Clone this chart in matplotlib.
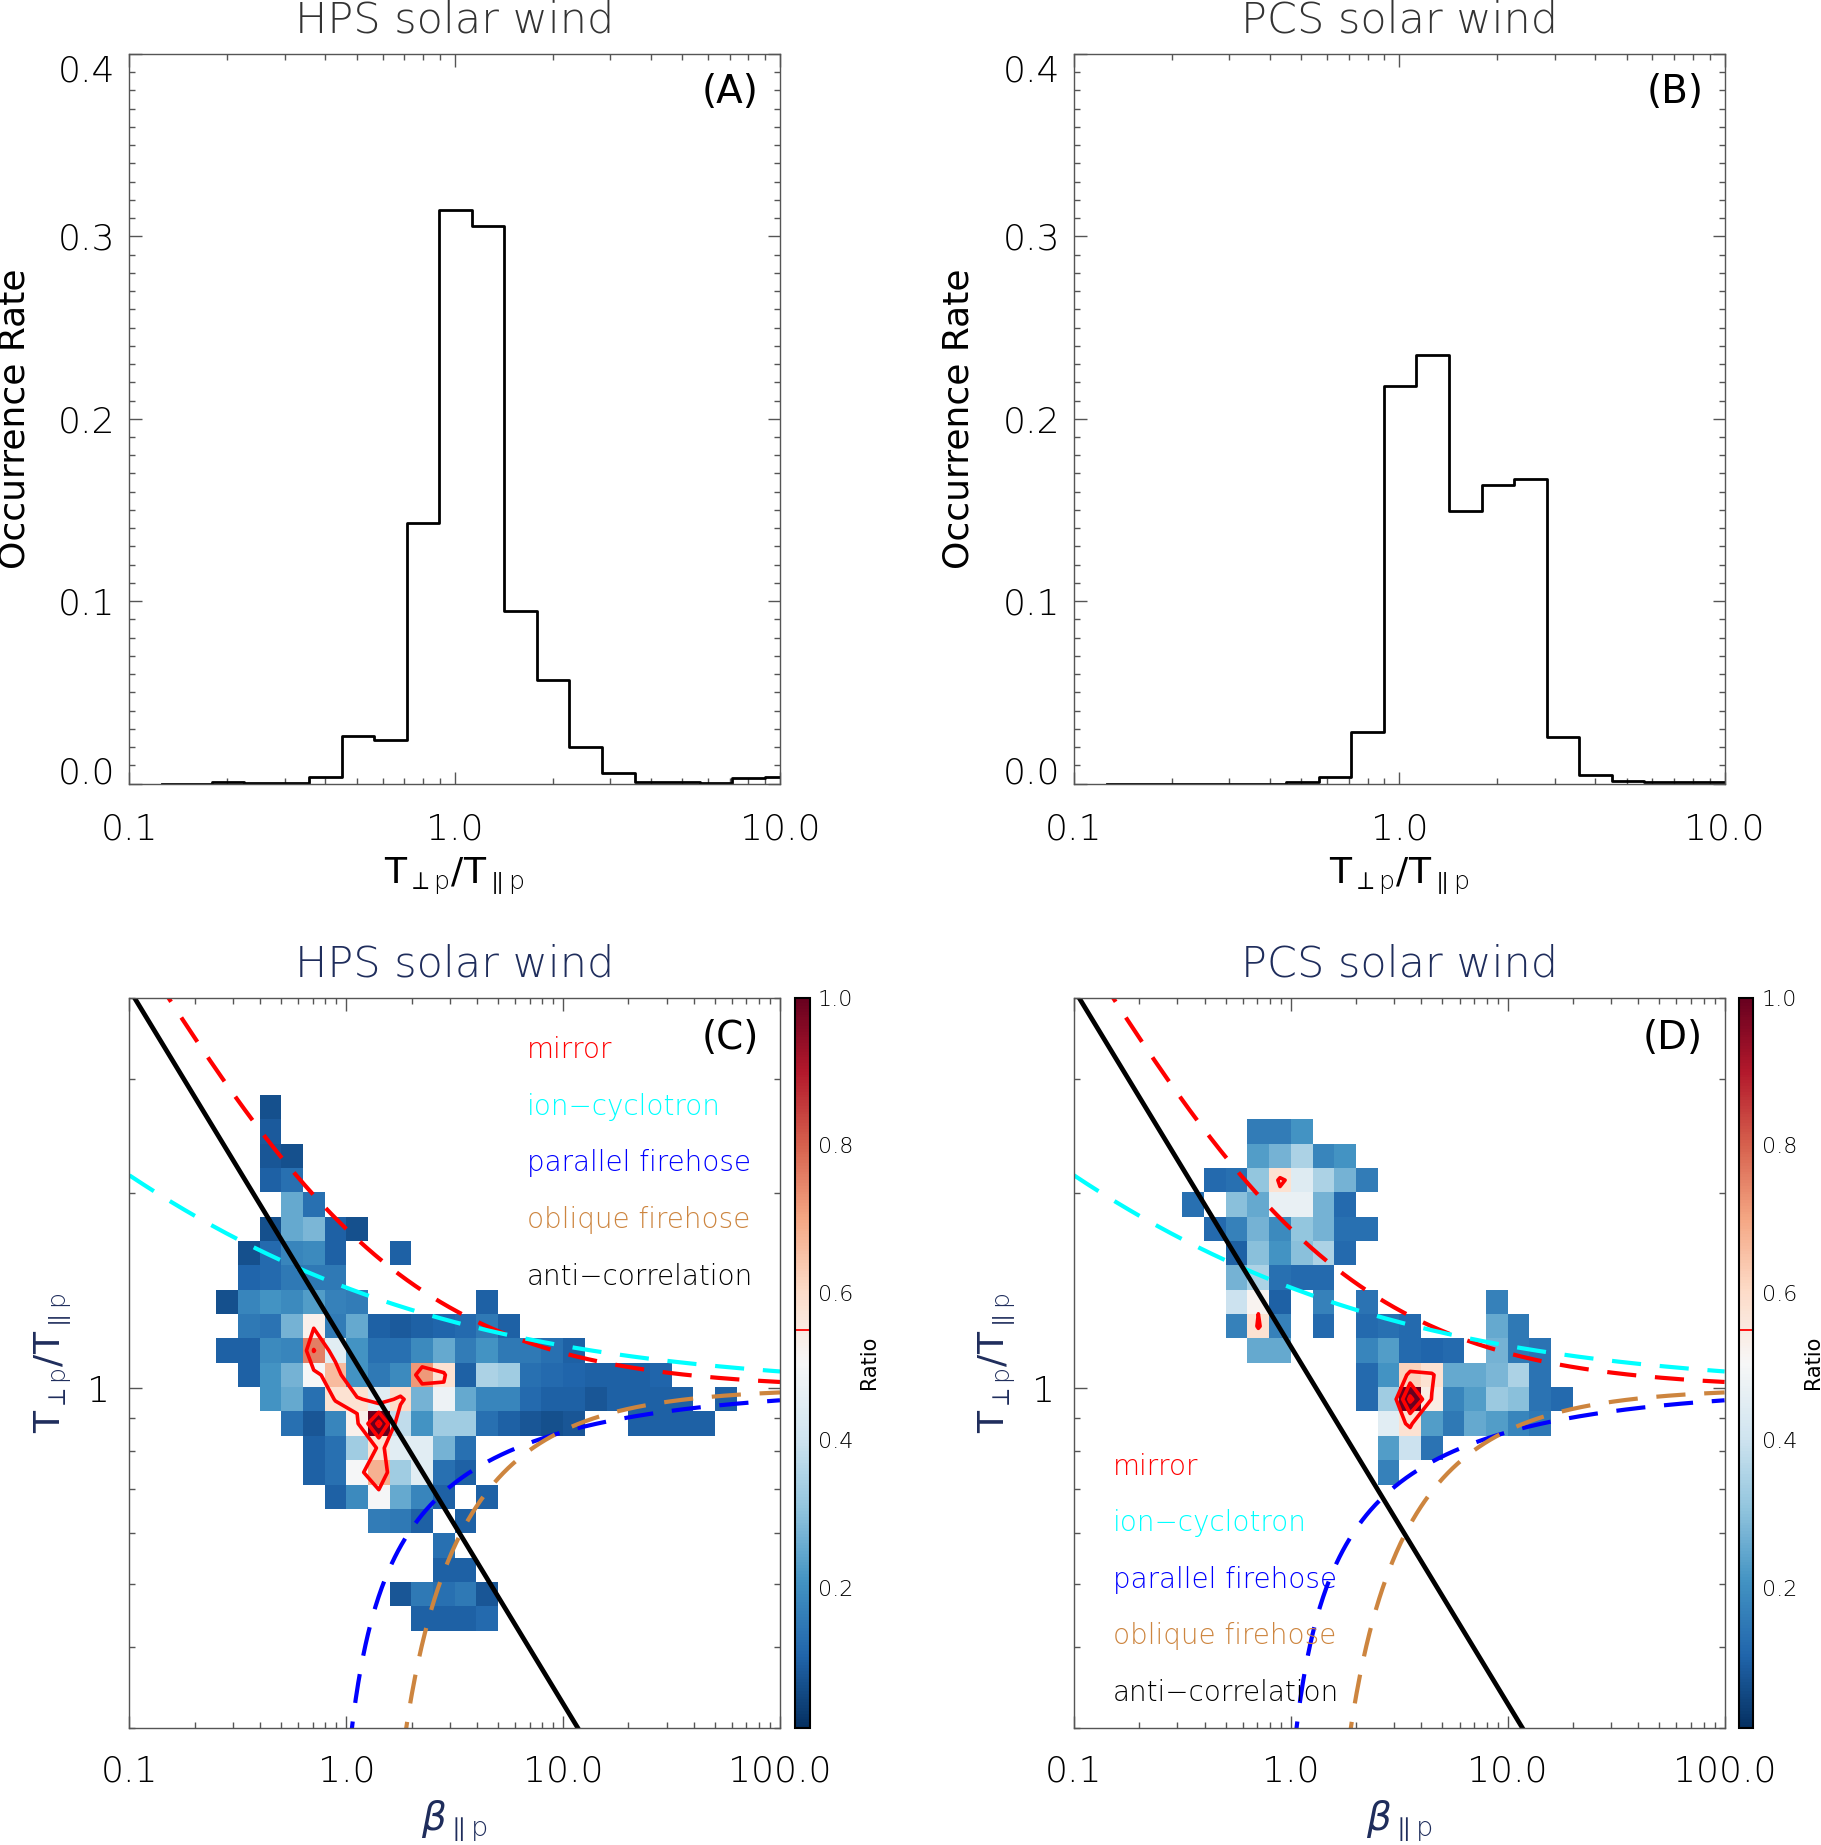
import numpy as np
import matplotlib
matplotlib.use("Agg")
import matplotlib.pyplot as plt
from matplotlib.ticker import FixedLocator, NullFormatter, FixedFormatter

plt.rcParams['font.family'] = ['DejaVu Sans']
plt.rcParams['font.weight'] = 'light'
plt.rcParams['mathtext.fontset'] = 'custom'
plt.rcParams['mathtext.rm'] = 'DejaVu Sans:light'
plt.rcParams['mathtext.it'] = 'DejaVu Sans:italic'
plt.rcParams['mathtext.bf'] = 'DejaVu Sans:bold'

# ---------------- data ----------------
# histogram bin centres, log10(T_perp/T_par)
hist_log_centers = [-0.9, -0.8, -0.7, -0.6, -0.5, -0.4, -0.3, -0.2, -0.1, 0.0,
                    0.1, 0.2, 0.3, 0.4, 0.5, 0.6, 0.7, 0.8, 0.9, 1.0]
hist_hps = [0.0, 0.0, 0.001, 0.0005, 0.0003, 0.0035, 0.0262, 0.0237, 0.143, 0.3147,
            0.3057, 0.0944, 0.0565, 0.0199, 0.0055, 0.001, 0.0008, 0.0003, 0.003, 0.0035]
hist_pcs = [0.0, 0.0, 0.0, 0.0, 0.0, 0.0, 0.0008, 0.0038, 0.0281, 0.2182,
            0.2348, 0.1494, 0.1639, 0.1672, 0.0254, 0.0044, 0.0016, 0.0008, 0.0008, 0.0008]

# 2-D ratio maps on a 30 x 30 grid: beta in [0.1, 100], T ratio in [0.3, 4]
# entries: (row counted from the top, first column, values...) ; None = empty bin
ratio_hps = [
    (4, 6, [0.07]),
    (5, 6, [0.09]),
    (6, 6, [0.08, 0.07]),
    (7, 6, [0.10, 0.13]),
    (8, 7, [0.25, 0.13]),
    (9, 6, [0.07, 0.25, 0.28, 0.10, 0.07]),
    (10, 5, [0.07, 0.12, 0.18, 0.19, 0.10, None, None, 0.10]),
    (11, 5, [0.11, 0.12, 0.15, 0.15, 0.15]),
    (12, 4, [0.07, 0.18, 0.21, 0.19, 0.23, 0.17, 0.16, None, None, None, None, None, 0.10]),
    (13, 5, [0.15, 0.14, 0.27, 0.53, 0.16, 0.25, 0.10, 0.09, 0.10, 0.11, 0.12, 0.15, 0.10]),
    (14, 4, [0.10, 0.10, 0.19, 0.18, 0.76, 0.45, 0.21, 0.13, 0.13, 0.19, 0.25, 0.16, 0.21,
             0.15, 0.15, 0.13, 0.10]),
    (15, 5, [0.10, 0.21, 0.27, 0.50, 0.66, 0.21, 0.15, 0.19, 0.72, 0.58, 0.10, 0.35, 0.33,
             0.13, 0.12, 0.11, 0.10, 0.10, 0.10, 0.11]),
    (16, 6, [0.21, 0.25, 0.13, 0.58, 0.58, 0.45, 0.60, 0.27, 0.48, 0.25, 0.18, 0.18, 0.12,
             0.10, 0.10, 0.08, 0.10, 0.10, 0.10, 0.10, None, 0.10]),
    (17, 7, [0.13, 0.08, 0.18, 0.53, 1.00, 0.38, 0.21, 0.33, 0.33, 0.13, 0.10, 0.08, 0.07,
             0.08, None, None, 0.10, 0.10, 0.10, 0.10]),
    (18, 8, [0.10, 0.13, 0.33, 0.58, 0.45, 0.45, 0.27, 0.13]),
    (19, 8, [0.10, 0.13, 0.50, 0.68, 0.33, 0.45, 0.13, 0.10]),
    (20, 9, [0.10, 0.19, 0.50, 0.25, 0.18, 0.10, None, 0.10]),
    (21, 11, [0.16, 0.15, 0.10, None, 0.10]),
    (22, 14, [0.13]),
    (23, 14, [0.10, 0.10]),
    (24, 12, [0.08, 0.15, 0.13, 0.15, 0.08]),
    (25, 13, [0.10, 0.10, 0.10, 0.12]),
]
ratio_pcs = [
    (5, 8, [0.16, 0.16, 0.21]),
    (6, 8, [0.23, 0.27, 0.35, 0.18, 0.21]),
    (7, 6, [0.12, 0.13, 0.31, 0.58, 0.44, 0.35, 0.27, 0.16]),
    (8, 5, [0.13, None, 0.30, 0.25, 0.47, 0.47, 0.27, 0.12]),
    (9, 6, [0.12, 0.17, 0.27, 0.19, 0.31, 0.27, 0.13, 0.13]),
    (10, 7, [0.10, 0.30, 0.21, 0.30, 0.35, 0.12]),
    (11, 7, [0.27, 0.35, 0.13, 0.12, 0.12]),
    (12, 7, [0.40, 0.52, 0.10, None, 0.17, None, 0.14, None, None, None, None, None, 0.17]),
    (13, 7, [0.17, 0.58, 0.17, None, 0.12, None, 0.12, 0.13, 0.12, None, None, None, 0.25, 0.15]),
    (14, 8, [0.25, 0.25, None, None, None, 0.18, 0.23, 0.12, 0.11, 0.12, None, 0.27, 0.15, 0.14]),
    (15, 13, [0.12, 0.21, 0.62, 0.58, 0.25, 0.25, 0.28, 0.35, 0.14]),
    (16, 13, [0.12, 0.33, 1.00, 0.54, 0.18, 0.23, 0.32, 0.30, 0.14, 0.12]),
    (17, 14, [0.45, 0.58, 0.23, 0.15, 0.25, 0.23, 0.18, 0.15]),
    (18, 14, [0.23, 0.40, 0.14]),
    (19, 14, [0.17]),
]

# instability thresholds T_perp/T_par = 1 + a / (beta - beta0)^b  (Hellinger et al. 2006)
thr_names = ['mirror', 'ion\u2212cyclotron', 'parallel firehose', 'oblique firehose']
thr_a = [0.77, 0.43, -0.47, -1.4]
thr_b = [0.76, 0.42, 0.53, 1.0]
thr_beta0 = [-0.016, -0.0004, 0.59, -0.11]
thr_colors = ['#ff0000', '#00ffff', '#0000ff', '#cd853f']
# anti-correlation T_perp/T_par = S * beta^-alpha
anti_S, anti_alpha = 1.16, 0.55

NBIN = 30
beta_edges = np.logspace(-1, 2, NBIN + 1)
trat_edges = np.logspace(np.log10(0.3), np.log10(4.0), NBIN + 1)


def build_grid(rows):
    g = np.full((NBIN, NBIN), np.nan)
    for r, c0, vals in rows:
        for k, v in enumerate(vals):
            if v is not None:
                g[NBIN - 1 - r, c0 + k] = v
    return g


# ---------------- figure ----------------
W, H = 1821, 1845
fig = plt.figure(figsize=(W / 100, H / 100), dpi=100)

def px_axes(l, t, w, h):
    return fig.add_axes([l / W, 1 - (t + h) / H, w / W, h / H])

NAVY = '#1f2d5c'
TICKC = '#555555'
TLABEL = r'T$_{\perp \mathrm{p}}$/T$_{\parallel \mathrm{p}}$'


def style_ticks(ax, ypad, xpad):
    ax.tick_params(which='both', direction='in', top=True, right=True, colors=TICKC,
                   labelcolor='black', width=1)
    ax.tick_params(which='major', length=9, labelsize=26)
    ax.tick_params(which='minor', length=4.5)
    ax.tick_params(axis='y', pad=ypad)
    ax.tick_params(axis='x', pad=xpad)
    for s in ax.spines.values():
        s.set_color(TICKC)
        s.set_linewidth(1.0)


hist_axes = []
for i, (vals, title, tag) in enumerate([(hist_hps, 'HPS solar wind', '(A)'),
                                          (hist_pcs, 'PCS solar wind', '(B)')]):
    left = 129.4 if i == 0 else 1074.0
    ax = px_axes(left, 54.0, 650.6, 729.5)
    x = 10 ** np.array(hist_log_centers)
    ax.plot(x, vals, drawstyle='steps-mid', color='black', lw=2.0)
    ax.set_xscale('log')
    ax.set_xlim(0.1, 10)
    ax.set_ylim(0, 0.4)
    ax.xaxis.set_major_locator(FixedLocator([0.1, 1, 10]))
    ax.xaxis.set_major_formatter(FixedFormatter(['0.1', '1.0', '10.0']))
    ax.xaxis.set_minor_locator(FixedLocator([k * 10.0 ** e for e in (-1, 0) for k in range(2, 10)]))
    ax.xaxis.set_minor_formatter(NullFormatter())
    ax.yaxis.set_major_locator(FixedLocator([0.0, 0.1, 0.2, 0.3, 0.4]))
    ax.yaxis.set_major_formatter(FixedFormatter(['0.0', '0.1', '0.2', '0.3', '0.4']))
    ax.yaxis.set_minor_locator(FixedLocator(np.arange(0, 0.401, 0.01)))
    style_ticks(ax, ypad=10, xpad=21)
    ax.text(0.5, 1.047, title, transform=ax.transAxes, ha='center', va='center',
            fontsize=31, color='#333333')
    ax.text(0.967, 0.948, tag, transform=ax.transAxes, ha='right', va='center', fontsize=28,
            fontweight='normal')
    ax.set_ylabel('Occurrence Rate', fontsize=26)
    ax.yaxis.set_label_coords(-0.177, 0.5)
    ax.yaxis.label.set_va('center')
    ax.set_xlabel(TLABEL, fontsize=26)
    ax.xaxis.set_label_coords(0.5, -0.128)
    ax.xaxis.label.set_va('center')
    hist_axes.append(ax)

beta_line = np.logspace(-1, 2, 800)
bx_c = np.sqrt(beta_edges[:-1] * beta_edges[1:])
ty_c = np.sqrt(trat_edges[:-1] * trat_edges[1:])

for i, (rows, title, tag) in enumerate([(ratio_hps, 'HPS solar wind', '(C)'),
                                          (ratio_pcs, 'PCS solar wind', '(D)')]):
    left = 129.4 if i == 0 else 1074.0
    ax = px_axes(left, 997.5, 650.6, 730.5)
    grid = build_grid(rows)
    mgrid = np.ma.masked_invalid(grid)
    mesh = ax.pcolormesh(beta_edges, trat_edges, mgrid, cmap='RdBu_r', vmin=0.01, vmax=1.0,
                         shading='flat')
    ax.contour(bx_c, ty_c, np.nan_to_num(grid, nan=0.0), levels=[0.55, 0.75, 0.95],
               colors='#ff0000', linewidths=2.6)
    for a, b, b0, col in zip(thr_a, thr_b, thr_beta0, thr_colors):
        with np.errstate(invalid='ignore', divide='ignore'):
            y = 1 + a / (beta_line - b0) ** b
        y = np.where((beta_line > b0) & (y > 0), y, np.nan)
        ax.plot(beta_line, y, color=col, lw=3.0, dashes=(7, 4.5))
    ax.plot(beta_line, anti_S * beta_line ** (-anti_alpha), color='black', lw=3.4)
    ax.set_xscale('log')
    ax.set_yscale('log')
    ax.set_xlim(0.1, 100)
    ax.set_ylim(0.3, 4.0)
    ax.xaxis.set_major_locator(FixedLocator([0.1, 1, 10, 100]))
    ax.xaxis.set_major_formatter(FixedFormatter(['0.1', '1.0', '10.0', '100.0']))
    ax.xaxis.set_minor_locator(FixedLocator([k * 10.0 ** e for e in (-1, 0, 1) for k in range(2, 10)]))
    ax.xaxis.set_minor_formatter(NullFormatter())
    ax.yaxis.set_major_locator(FixedLocator([1.0]))
    ax.yaxis.set_major_formatter(FixedFormatter(['1']))
    ax.yaxis.set_minor_locator(FixedLocator([0.3, 0.4, 0.5, 0.6, 0.7, 0.8, 0.9, 2, 3, 4]))
    ax.yaxis.set_minor_formatter(NullFormatter())
    style_ticks(ax, ypad=14, xpad=19)
    ax.text(0.5, 1.046, title, transform=ax.transAxes, ha='center', va='center',
            fontsize=31, color=NAVY)
    ax.text(0.967, 0.945, tag, transform=ax.transAxes, ha='right', va='center', fontsize=28,
            fontweight='normal')
    ax.set_ylabel(TLABEL, fontsize=26, color=NAVY)
    ax.yaxis.set_label_coords(-0.117, 0.5)
    ax.yaxis.label.set_va('center')
    ax.set_xlabel(r'$\beta_{\parallel \mathrm{p}}$', fontsize=28, color=NAVY)
    ax.xaxis.set_label_coords(0.5, -0.127)
    ax.xaxis.label.set_va('center')

    names = thr_names + ['anti\u2212correlation']
    cols = thr_colors + ['black']
    if i == 0:
        lx, ly = 0.611, [0.9275, 0.850, 0.773, 0.696, 0.617]
    else:
        lx, ly = 0.0597, [0.3575, 0.280, 0.2029, 0.1256, 0.0483]
    for nm, cl, yy in zip(names, cols, ly):
        ax.text(lx, yy, nm, transform=ax.transAxes, color=cl, fontsize=20,
                ha='left', va='center')

    cb_left = 795.2 if i == 0 else 1738.7
    cax = px_axes(cb_left, 997.5, 14.5, 730.5)
    cb = fig.colorbar(mesh, cax=cax, ticks=[0.2, 0.4, 0.6, 0.8, 1.0])
    cb.ax.set_yticklabels(['0.2', '0.4', '0.6', '0.8', '1.0'])
    cb.ax.tick_params(length=0, labelsize=16, pad=6)
    cb.outline.set_edgecolor('black')
    cb.outline.set_linewidth(1.5)
    cb.ax.axhline(0.55, color='red', lw=1.3)
    cb.set_label('Ratio', fontsize=15, rotation=90)
    cb.ax.yaxis.set_label_coords(5.1, 0.5)
    cb.ax.yaxis.label.set_va('center')

fig.canvas.draw()
for ax in hist_axes:
    labs = ax.get_yticklabels()
    labs[0].set_va('baseline')
    labs[-1].set_va('top')

fig.savefig('out.png', dpi=100)
